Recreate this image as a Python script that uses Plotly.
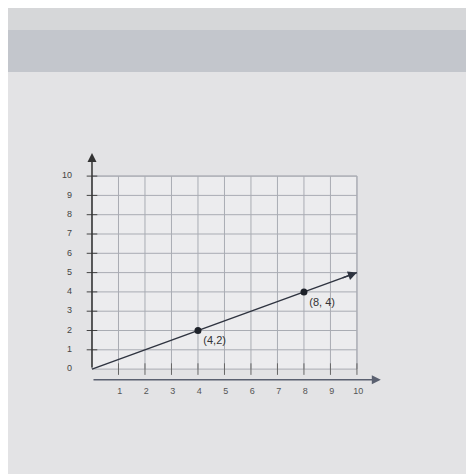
import plotly.graph_objects as go

ticks = [0, 1, 2, 3, 4, 5, 6, 7, 8, 9, 10]
tick_labels = [str(t) for t in ticks]
line_x = [0, 10]
line_y = [0, 5]
pts_x = [4, 8]
pts_y = [2, 4]
pts_labels = ["(4,2)", "(8, 4)"]

fig = go.Figure()

# grid
for t in ticks[1:]:
    fig.add_trace(go.Scatter(x=[t, t], y=[0, 10], mode="lines",
                             line=dict(color="#a9acb3", width=1), hoverinfo="skip"))
    fig.add_trace(go.Scatter(x=[0, 10], y=[t, t], mode="lines",
                             line=dict(color="#a9acb3", width=1), hoverinfo="skip"))

# tick labels
fig.add_trace(go.Scatter(x=[-0.75] * len(ticks), y=ticks, mode="text", text=tick_labels,
                         textfont=dict(size=9, color="#444"), textposition="middle left"))
fig.add_trace(go.Scatter(x=[t + 0.05 for t in ticks[1:]], y=[-1.15] * 10, mode="text",
                         text=tick_labels[1:], textfont=dict(size=9, color="#555")))
# tick marks
for t in ticks[1:]:
    fig.add_trace(go.Scatter(x=[-0.2, 0.2], y=[t, t], mode="lines",
                             line=dict(color="#444", width=1), hoverinfo="skip"))
    fig.add_trace(go.Scatter(x=[t, t], y=[-0.3, 0.3], mode="lines",
                             line=dict(color="#666", width=1), hoverinfo="skip"))

# axes with arrows
fig.add_annotation(x=0, y=11.2, ax=0, ay=0, xref="x", yref="y", axref="x", ayref="y",
                   showarrow=True, arrowhead=2, arrowsize=1.2, arrowwidth=1.5, arrowcolor="#333", text="")
fig.add_annotation(x=10.9, y=-0.55, ax=0, ay=-0.55, xref="x", yref="y", axref="x", ayref="y",
                   showarrow=True, arrowhead=2, arrowsize=1.2, arrowwidth=1.5, arrowcolor="#5a6070", text="")

# the line
fig.add_trace(go.Scatter(x=line_x, y=line_y, mode="lines", line=dict(color="#2f3440", width=1.5)))
fig.add_annotation(x=10, y=5, ax=9.4, ay=4.7, xref="x", yref="y", axref="x", ayref="y",
                   showarrow=True, arrowhead=2, arrowsize=1.2, arrowwidth=1.5, arrowcolor="#2f3440", text="")
fig.add_trace(go.Scatter(x=pts_x, y=pts_y, mode="markers+text", text=pts_labels,
                         textposition="bottom right", textfont=dict(size=11, color="#333"),
                         marker=dict(color="#1e222a", size=7)))

fig.update_layout(
    width=474, height=474, showlegend=False,
    margin=dict(l=0, r=0, t=0, b=0),
    paper_bgcolor="#dcdcde", plot_bgcolor="rgba(0,0,0,0)",
    font=dict(family="Liberation Sans, Arial, sans-serif"),
    xaxis=dict(range=[-3.17, 14.72], visible=False, fixedrange=True),
    yaxis=dict(range=[-5.85, 18.71], visible=False, fixedrange=True),
    shapes=[
        dict(type="rect", xref="paper", yref="paper", x0=0, x1=1, y0=1 - 22 / 474, y1=1,
             fillcolor="#d6d7d9", line_width=0, layer="below"),
        dict(type="rect", xref="paper", yref="paper", x0=0, x1=1, y0=1 - 64 / 474, y1=1 - 22 / 474,
             fillcolor="#c3c6cc", line_width=0, layer="below"),
        dict(type="rect", xref="paper", yref="paper", x0=0, x1=1, y0=0, y1=1 - 64 / 474,
             fillcolor="#e3e3e5", line_width=0, layer="below"),
        dict(type="rect", xref="x", yref="y", x0=0, x1=10, y0=0, y1=10,
             fillcolor="#ececee", line=dict(color="#a9acb3", width=1), layer="below"),
    ],
)

fig.write_html("out.html")
